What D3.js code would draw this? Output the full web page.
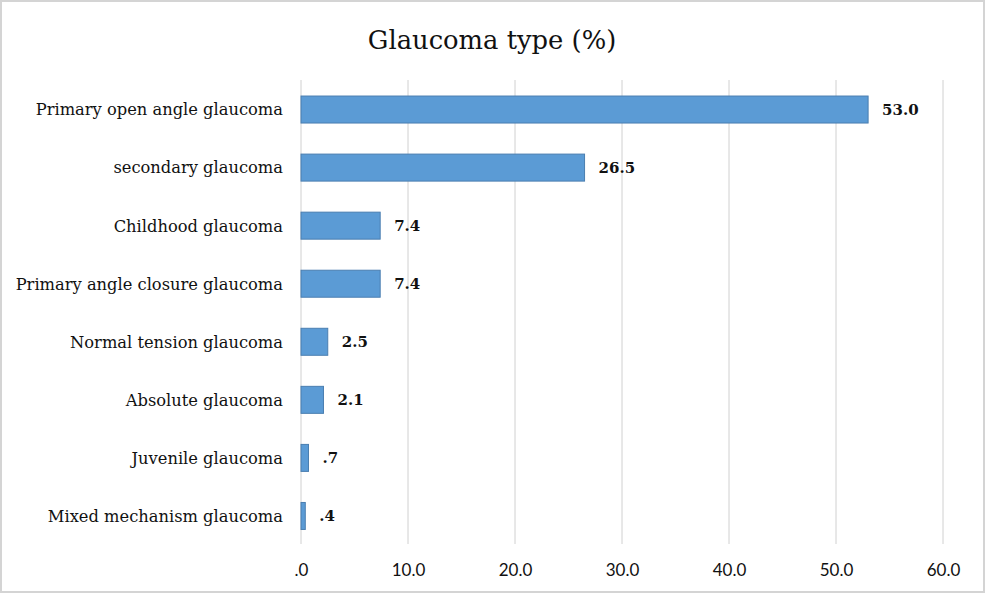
<!DOCTYPE html>
<html><head><meta charset="utf-8">
<script src="https://cdn.jsdelivr.net/npm/d3@7"></script>
<style>body{margin:0;background:#fff}svg{display:block}</style>
</head><body>
<script>
const categories = ["Primary open angle glaucoma","secondary glaucoma","Childhood glaucoma","Primary angle closure glaucoma","Normal tension glaucoma","Absolute glaucoma","Juvenile glaucoma","Mixed mechanism glaucoma"];
const values = [53.0, 26.5, 7.4, 7.4, 2.5, 2.1, 0.7, 0.4];
const ticks = [0,10,20,30,40,50,60];
const title = "Glaucoma type (%)";

const W=986,H=595;
const svg=d3.select("body").append("svg").attr("width",W).attr("height",H);
svg.append("rect").attr("x",1).attr("y",1).attr("width",W-3).attr("height",H-4).attr("fill","#fff").attr("stroke","#d4d4d4").attr("stroke-width",2);

const x=d3.scaleLinear().domain([0,60]).range([301,943]);
const y=d3.scaleBand().domain(categories).range([80.5,545]).paddingInner(0.535).paddingOuter(0.2675);
const fmt=v=>{let s=d3.format(".1f")(v);return s.replace(/^0\./,".");};

svg.append("text").attr("x",492).attr("y",49).attr("text-anchor","middle").attr("font-family","'DejaVu Serif'").attr("font-size",25.8).attr("fill","#111").text(title);

svg.append("g").selectAll("line").data(ticks).join("line")
 .attr("x1",d=>x(d)).attr("x2",d=>x(d)).attr("y1",80).attr("y2",544).attr("stroke","#d0d0d0").attr("stroke-width",1);

const ax=svg.append("g").attr("transform","translate(0,545)").call(d3.axisBottom(x).tickValues(ticks).tickSize(0).tickPadding(19).tickFormat(fmt));
ax.select(".domain").remove();
ax.selectAll("text").attr("font-family","Lato, 'Liberation Sans'").attr("font-size",17).attr("fill","#111");

svg.append("g").selectAll("rect").data(values).join("rect")
 .attr("x",x(0)).attr("y",(d,i)=>y(categories[i])).attr("height",y.bandwidth())
 .attr("width",d=>x(d)-x(0)).attr("fill","#5B9BD5").attr("stroke","#4A7EB0").attr("stroke-width",1);

svg.append("g").selectAll("text").data(values).join("text")
 .attr("x",d=>x(d)+14).attr("y",(d,i)=>y(categories[i])+y.bandwidth()/2).attr("dy","0.36em")
 .attr("font-family","'DejaVu Serif'").attr("font-weight","bold").attr("font-size",15).attr("fill","#111").text(fmt);

svg.append("g").selectAll("text").data(categories).join("text")
 .attr("x",283).attr("y",d=>y(d)+y.bandwidth()/2).attr("dy","0.36em").attr("text-anchor","end")
 .attr("font-family","'DejaVu Serif'").attr("font-size",16.3).attr("fill","#111").text(d=>d);
</script>
</body></html>
